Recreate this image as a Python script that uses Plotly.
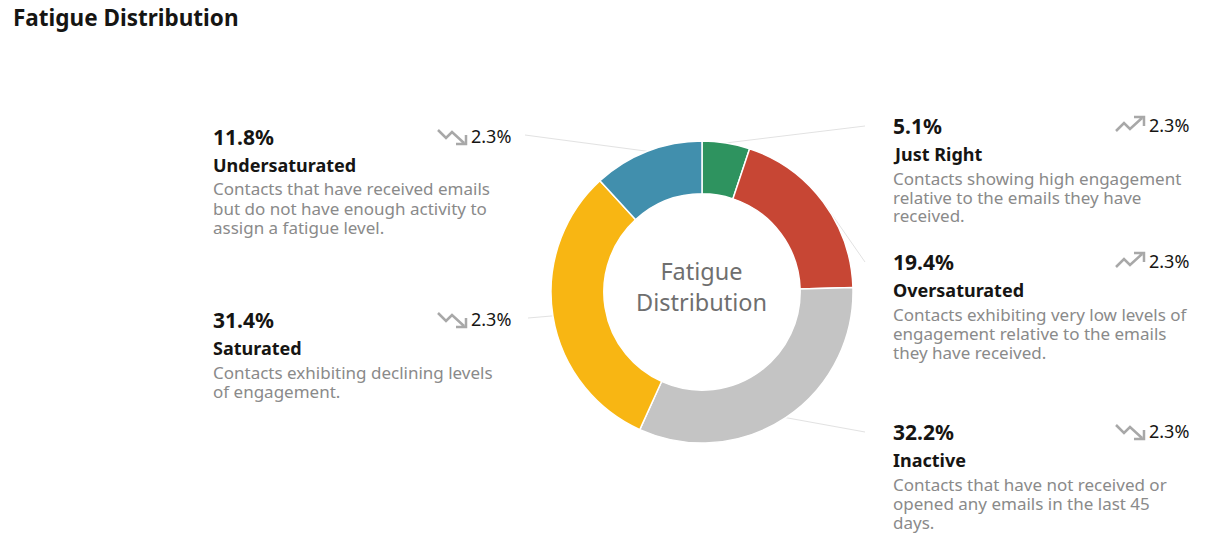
import math
import plotly.graph_objects as go

W, H = 1215, 538
OFF = 0  # body margin removed via post_script
FW, FH = W - 2 * OFF, H - 2 * OFF

categories = ["Just Right", "Oversaturated", "Inactive", "Saturated", "Undersaturated"]
values = [5.1, 19.4, 32.2, 31.4, 11.8]
changes = [2.3, 2.3, 2.3, 2.3, 2.3]
trends = ["up", "up", "down", "down", "down"]
descriptions = [
    ["Contacts showing high engagement", "relative to the emails they have", "received."],
    ["Contacts exhibiting very low levels of", "engagement relative to the emails", "they have received."],
    ["Contacts that have not received or", "opened any emails in the last 45", "days."],
    ["Contacts exhibiting declining levels", "of engagement."],
    ["Contacts that have received emails", "but do not have enough activity to", "assign a fatigue level."],
]
colors = ["#2E935F", "#C74634", "#C4C4C4", "#F8B613", "#418FAD"]

# styling / layout (pixel positions in the page)
FONT = "Noto Sans"
CX, CY, R = 702, 292, 151
blocks = {
    "Just Right": dict(x=892, y=126, side="right", anchor=(865, 126)),
    "Oversaturated": dict(x=892, y=262, side="right", anchor=(865, 262)),
    "Inactive": dict(x=892, y=432, side="right", anchor=(865, 432)),
    "Saturated": dict(x=212, y=320, side="left", anchor=(528, 318)),
    "Undersaturated": dict(x=212, y=137, side="left", anchor=(525, 135)),
}


def px(x):
    return (x - OFF) / FW


def py(y):
    return 1 - (y - OFF) / FH


fig = go.Figure()
fig.add_trace(go.Pie(
    labels=categories, values=values, sort=False, direction="clockwise", rotation=0,
    hole=0.65, textinfo="none", hoverinfo="label+percent",
    marker=dict(colors=colors, line=dict(color="white", width=1.5)),
    domain=dict(x=[px(CX - R), px(CX + R)], y=[py(CY + R), py(CY - R)]),
    showlegend=False,
))

annotations = []
shapes = []


def path_from(points_list):
    s = ""
    for pts in points_list:
        for i, (x, y) in enumerate(pts):
            s += ("M" if i == 0 else "L") + f"{px(x):.5f},{py(y):.5f} "
    return s


total = sum(values)
cum = 0
for cat, val, ch, tr, desc in zip(categories, values, changes, trends, descriptions):
    mid = (cum + val / 2) / total * 2 * math.pi
    cum += val
    b = blocks[cat]
    ex = CX + R * math.sin(mid)
    ey = CY - R * math.cos(mid)
    ax, ay = b["anchor"]
    shapes.append(dict(type="line", xref="paper", yref="paper", x0=px(ax), y0=py(ay),
                       x1=px(ex), y1=py(ey), line=dict(color="#E2E2E2", width=1), layer="below"))
    x, y = b["x"], b["y"]
    annotations.append(dict(x=px(x - 1), y=py(y), xref="paper", yref="paper", xanchor="left", yanchor="middle",
                            text=f"<b>{val:.1f}%</b>", showarrow=False,
                            font=dict(family=FONT, size=21, color="#161513")))
    annotations.append(dict(x=px(x - 1), y=py(y + 28), xref="paper", yref="paper", xanchor="left", yanchor="middle",
                            text=f"<b>{cat}</b>", showarrow=False,
                            font=dict(family=FONT, size=18, color="#161513")))
    for i, line in enumerate(desc):
        annotations.append(dict(x=px(x - 1), y=py(y + 52 + 19 * i), xref="paper", yref="paper",
                                xanchor="left", yanchor="middle", text=line, showarrow=False,
                                font=dict(family=FONT, size=17, color="#8A8A8A")))
    rx = 512 if b["side"] == "left" else 1190
    annotations.append(dict(x=px(rx + 1), y=py(y - 1), xref="paper", yref="paper", xanchor="right", yanchor="middle",
                            text=f"{ch}%", showarrow=False,
                            font=dict(family=FONT, size=18, color="#161513")))
    ix = rx - 74
    if tr == "down":
        y0 = y - 7
        pts = [[(ix, y0), (ix + 8, y0 + 8), (ix + 14, y0 + 2), (ix + 26, y0 + 13)],
               [(ix + 18, y0 + 14), (ix + 28, y0 + 14), (ix + 28, y0 + 5)]]
    else:
        y0 = y + 5
        pts = [[(ix, y0), (ix + 8, y0 - 8), (ix + 14, y0 - 2), (ix + 26, y0 - 13)],
               [(ix + 18, y0 - 14), (ix + 28, y0 - 14), (ix + 28, y0 - 5)]]
    shapes.append(dict(type="path", xref="paper", yref="paper", path=path_from(pts),
                       line=dict(color="#A8A8A8", width=2.5)))

annotations.append(dict(x=px(CX), y=py(CY - 6), xref="paper", yref="paper", xanchor="center", yanchor="middle",
                        text="Fatigue<br>Distribution", showarrow=False,
                        font=dict(family=FONT, size=23.5, color="#6F6F6F")))
annotations.append(dict(x=px(11), y=py(17), xref="paper", yref="paper", xanchor="left", yanchor="middle",
                        text="<b>Fatigue Distribution</b>", showarrow=False,
                        font=dict(family=FONT, size=22.5, color="#161513")))

fig.update_layout(
    width=FW, height=FH, margin=dict(l=0, r=0, t=0, b=0),
    paper_bgcolor="white", plot_bgcolor="white",
    annotations=annotations, shapes=shapes,
)
fig.write_html("out.html", config={"displayModeBar": False},
               post_script="document.body.style.margin='0';document.body.style.overflow='hidden';")
